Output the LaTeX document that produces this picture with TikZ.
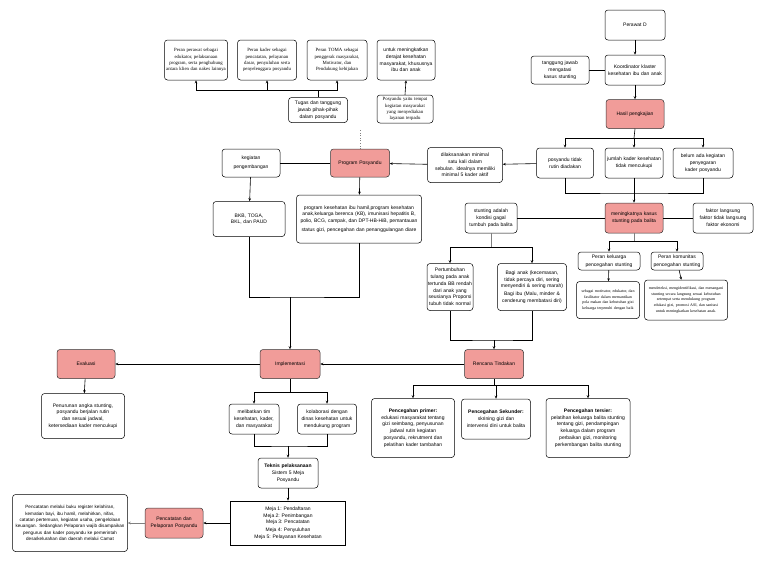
\documentclass[tikz,border=0pt]{standalone}
\usepackage{fontspec}
\setmainfont{Liberation Sans}
\newfontfamily\serifx{Liberation Serif}
\usetikzlibrary{arrows.meta}
\definecolor{redf}{RGB}{241,156,153}
\hyphenpenalty=10000 \exhyphenpenalty=10000
\begin{document}
\begin{tikzpicture}[x=1pt,y=-1pt,
 box/.style={draw, rounded corners=3pt, align=center, inner sep=0pt, font=\fontsize{5}{6.8}\selectfont, line width=0.5pt},
 bx/.style n args={3}{minimum width=#1pt, minimum height=#2pt, text width=#3pt},
 red/.style={fill=redf, draw=black!80},
 srf/.style={font=\serifx\fontsize{4.8}{6.2}\selectfont},
 arr/.style={-{Stealth[length=3pt,width=2.5pt]}, line width=0.6pt},
 ln/.style={line width=0.6pt}]
\useasboundingbox (0,0) rectangle (768,563);
% top row
\node[box,bx={63}{40}{60},srf] (perawat) at (196,60) {Peran perawat sebagai edukator, pelaksanaan program, serta penghubung antara klien dan nakes lainnya};
\node[box,bx={59}{40}{57},srf] (kader) at (267,60) {Peran kader sebagai pencatatan, pelayanan dasar, penyuluhan serta penyelenggara posyandu};
\node[box,bx={60}{40}{58},srf] (toma) at (337,60) {Peran TOMA sebagai penggerak masyarakat, Motivator, dan Pendukung kebijakan};
\node[box,bx={58}{40}{56}] (untuk) at (406,60) {untuk meningkatkan derajat kesehatan masyarakat, khususnya ibu dan anak};
\node[box,bx={59}{25}{56}] (tugas) at (318,110) {Tugas dan tanggung jawab pihak-pihak dalam posyandu};
\node[box,bx={56}{28}{55},srf] (yaitu) at (405,109) {Posyandu yaitu tempat kegiatan masyarakat yang menyediakan layanan terpadu};
\coordinate (tj) at (318,90);
\draw[ln] (tugas.north) -- (tj);
\draw[arr] (tj) -| (perawat.south);
\draw[arr] (tj) -| (toma.south);
\draw[arr] (kader.south |- tj) -- (kader.south);
\draw[arr] (yaitu.north) -- (untuk.south);
% right top
\node[box,bx={60}{30}{56}] (pd) at (635,25) {Perawat D};
\node[box,bx={60}{30}{56}] (koord) at (635,70) {Koordinator klaster kesehatan ibu dan anak};
\node[box,bx={58}{28}{54}] (tjb) at (560,70) {tanggung jawab mengatasi kasus stunting};
\node[box,red,bx={58}{29}{54}] (hasil) at (635,114) {Hasil pengkajian};
\draw[arr] (pd) -- (koord);
\draw[ln] (tjb) -- (koord);
\draw[arr] (koord) -- (hasil);
\node[box,bx={57}{30}{55}] (rutin) at (565,163) {posyandu tidak rutin diadakan};
\node[box,bx={58}{30}{54}] (jumlah) at (634,163) {jumlah kader kesehatan tidak mencukupi};
\node[box,bx={60}{30}{58}] (belum) at (703,163) {belum ada kegiatan penyegaran kader posyandu};
\coordinate (hj) at (634,138);
\draw[ln] (hasil.south) -- (hj);
\draw[arr] (hj) -| (rutin.north);
\draw[arr] (hj) -| (belum.north);
\draw[arr] (hj) -- (jumlah.north);
% program posyandu
\node[box,bx={75}{35}{74}] (dil) at (465,165) {dilaksanakan minimal satu kali dalam\\ sebulan. idealnya memiliki minimal 5 kader aktif};
\node[box,red,bx={59}{28}{56}] (pp) at (360,163) {Program Posyandu};
\node[box,bx={58}{28}{54}] (keg) at (251,163) {kegiatan\\[2pt] pengembangan};
\draw[arr] (rutin) -- (dil);
\draw[arr] (dil) -- (pp);
\draw[ln] (pp) -- (keg);
\draw[dotted,gray,line width=0.6pt] (pp.north) -- (360,130);
\node[box,bx={72}{35}{60}] (bkb) at (249,219) {BKB, TOGA, BKL, dan PAUD};
\node[box,bx={125}{48}{120}] (prog) at (359,219) {program kesehatan ibu hamil,program kesehatan anak,keluarga berenca (KB), imunisasi hepatitis B, polio, BCG, campak, dan DPT-HB-HiB, pemantauan\\[2pt] status gizi, pencegahan dan penanggulangan diare};
\draw[arr] (keg) -- (bkb);
\draw[arr] (pp) -- (prog);
% meningkatnya
\node[box,red,bx={58}{30}{56}] (men) at (634,218) {meningkatnya kasus stunting pada balita};
\node[box,bx={60}{30}{58}] (fak) at (723,218) {faktor langsung\\faktor tidak langsung\\faktor ekonomi};
\node[box,bx={52}{30}{50}] (sad) at (491,218) {stunting adalah kondisi gagal tumbuh pada balita};
\coordinate (cj) at (634,193);
\draw[ln] (rutin.south) |- (cj) -| (belum.south);
\draw[ln] (jumlah.south) -- (cj);
\draw[arr] (cj) -- (men.north);
\draw[ln] (fak) -- (men);
\draw[ln] (men) -- (sad);
\node[box,bx={46}{47}{46}] (pert) at (450,287) {Pertumbuhan tulang pada anak tertunda BB rendah dari anak yang seusianya Proporsi tubuh tidak normal};
\node[box,bx={69}{47}{67}] (bagi) at (532,287) {Bagi anak (kecemasan, tidak percaya diri, sering menyendiri \& sering marah)\\[1pt] Bagi ibu (Malu, minder \& cenderung membatasi diri)};
\coordinate (sj) at (491,247);
\draw[ln,gray] (sad.south) -- (sj);
\draw[arr] (sj) -| (pert.north);
\draw[arr] (sj) -| (bagi.north);
\node[box,bx={62}{18}{60}] (pkel) at (609,261) {Peran keluarga\\[1pt] pencegahan stunting};
\node[box,bx={52}{18}{52}] (pkom) at (677,261) {Peran komunitas\\[1pt] pencegahan stunting};
\coordinate (mj) at (634,241);
\draw[ln,gray] (men.south) -- (mj);
\draw[arr] (mj) -| (pkel.north);
\draw[arr] (mj) -| (pkom.north);
\node[box,bx={63}{37}{62},font=\serifx\fontsize{4}{5.6}\selectfont] (motiv) at (608,300) {sebagai motivator, edukator, dan fasilitator dalam memantikan pola makan dan kebutuhan gizi keluarga terpenuhi dengan baik};
\node[box,bx={83}{40}{82},font=\serifx\fontsize{4}{5.6}\selectfont] (mendet) at (686,300) {mendeteksi, mengidentifikasi, dan menangani stunting secara langsung sesuai kebutuhan setempat serta mendukung program edukasi gizi, promosi ASI, dan sanitasi untuk meningkatkan kesehatan anak.};
\draw[arr] (pkel) -- (motiv);
\draw[arr] (pkom) -- (mendet);
% implementasi
\node[box,red,bx={60}{29}{56}] (impl) at (290,364) {Implementasi};
\node[box,red,bx={59}{29}{56}] (renc) at (494,364) {Rencana Tindakan};
\node[box,red,bx={58}{29}{56}] (eval) at (86,364) {Evaluasi};
\coordinate (ij) at (290,297);
\draw[ln] (bkb.south) |- (ij) -| (prog.south);
\draw[arr] (ij) -- (impl.north);
\coordinate (rj) at (494,340);
\draw[ln] (pert.south) |- (rj) -| (bagi.south);
\draw[arr] (rj) -- (renc.north);
\draw[arr] (renc) -- (impl);
\draw[arr] (impl) -- (eval);
\node[box,bx={83}{45}{76}] (pen) at (83,416) {Penurunan angka stunting, posyandu berjalan rutin dan sesuai jadwal, ketersediaan kader mencukupi};
\draw[arr] (eval) -- (pen);
\node[box,bx={50}{30}{46}] (meli) at (254,419) {melibatkan tim kesehatan, kader, dan masyarakat};
\node[box,bx={59}{30}{54}] (kola) at (327,419) {kolaborasi dengan dinas kesehatan untuk mendukung program};
\coordinate (mlj) at (290,392);
\draw[ln] (impl.south) -- (mlj);
\draw[arr] (mlj) -| (meli.north);
\draw[arr] (mlj) -| (kola.north);
\node[box,bx={60}{30}{58}] (tek) at (288,473) {\textbf{Teknis pelaksanaan}\\Sistem 5 Meja\\ Posyandu};
\coordinate (tkj) at (288,446);
\draw[ln] (meli.south) |- (tkj) -| (kola.south);
\draw[arr] (tkj) -- (tek.north);
\node[draw,line width=0.8pt,align=center,inner sep=0pt,minimum width=115pt,minimum height=44pt,font=\fontsize{5}{6.6}\selectfont] (meja) at (288,523) {Meja 1: Pendaftaran\\Meja 2: Penimbangan\\Meja 3: Pencatatan\\[1pt]Meja 4: Penyuluhan\\Meja 5: Pelayanan Kesehatan};
\draw[arr] (tek) -- (meja);
\node[box,red,bx={58}{30}{56}] (penc) at (174,523) {Pencatatan dan Pelaporan Posyandu};
\node[box,bx={115}{57}{114},font=\fontsize{4.6}{6.4}\selectfont] (penct) at (70,523) {Pencatatan melalui buku register kelahiran, kematian bayi, ibu hamil, melahirkan, nifas, catatan pertemuan, kegiatan usaha, pengelolaan keuangan. Sedangkan Pelaporan wajib disampaikan pengurus dan kader posyandu ke pemerintah desa/kelurahan dan daerah melalui Camat};
\draw[arr] (meja) -- (penc);
\draw[arr,gray] (penc) -- (penct);
% pencegahan
\node[box,bx={83}{59}{78}] (prim) at (413,428) {\textbf{Pencegahan primer:}\\edukasi masyarakat tentang gizi seimbang, penyusunan jadwal rutin kegiatan posyandu, rekrutment dan pelatihan kader tambahan};
\node[box,bx={69}{40}{66}] (sek) at (496,419) {\textbf{Pencegahan Sekunder:}\\skrining gizi dan intervensi dini untuk balita};
\node[box,bx={84}{59}{78}] (ters) at (588,428) {\textbf{Pencegahan tersier:}\\pelatihan keluarga balita stunting tentang gizi, pendampingan keluarga dalam program perbaikan gizi, monitoring perkembangan balita stunting};
\coordinate (pj) at (494,385);
\draw[ln] (renc.south) -- (pj);
\draw[arr] (pj) -| (prim.north);
\draw[arr] (pj) -| (ters.north);
\draw[arr] (pj) -| (sek.north);
\end{tikzpicture}
\end{document}
